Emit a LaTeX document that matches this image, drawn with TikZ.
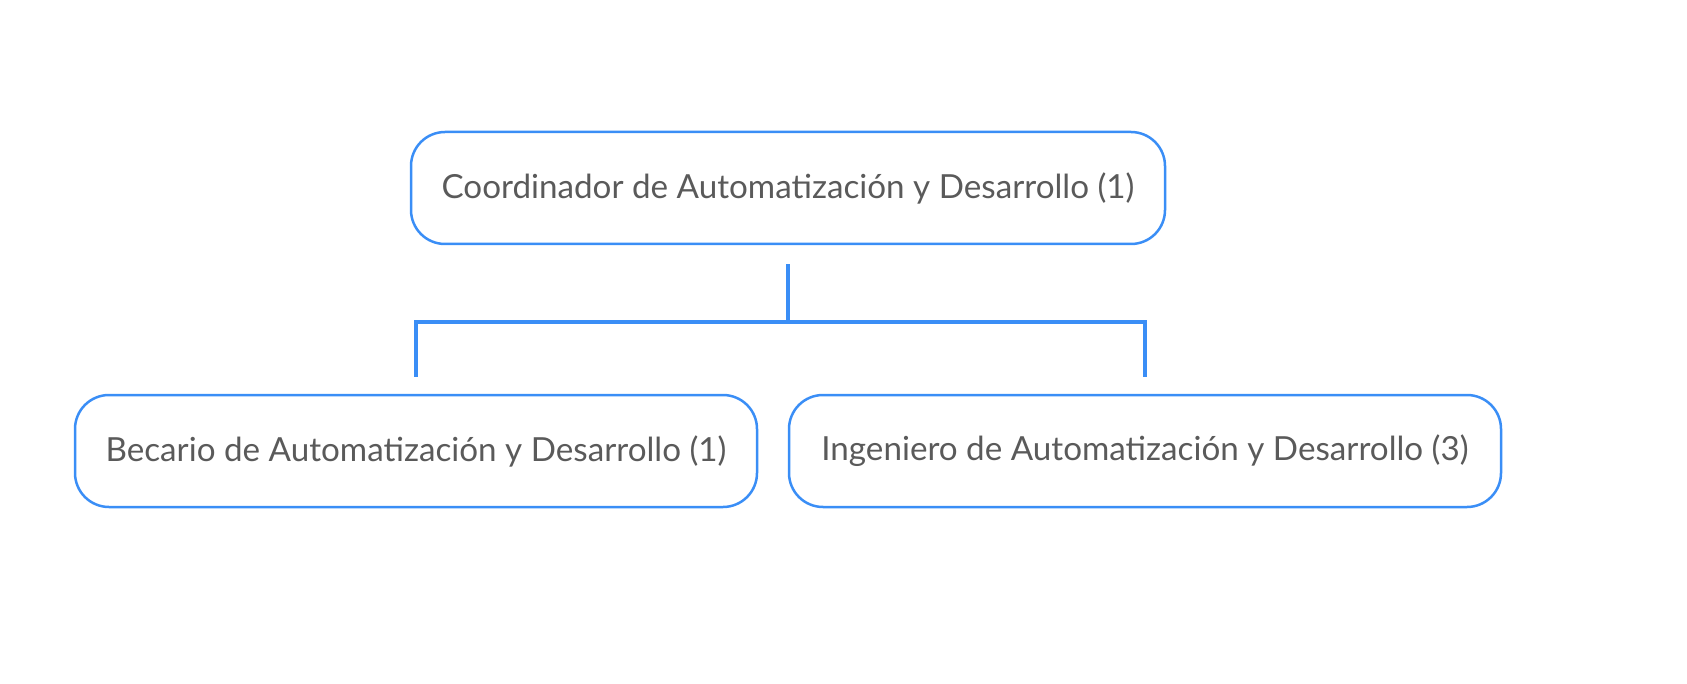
\documentclass[tikz,border=0pt]{standalone}
\usepackage{fontspec}
\setmainfont{Lato}
\definecolor{boxblue}{HTML}{3A8EF6}
\definecolor{textgray}{HTML}{5A5A5A}
\tikzset{
  puesto/.style={draw=boxblue, line width=1.25pt, rounded corners=17pt,
    text=textgray, font=\fontsize{16.6}{20}\selectfont, minimum height=56pt, inner xsep=0pt},
  link/.style={draw=boxblue, line width=1.8pt}
}
\begin{document}
\begin{tikzpicture}[x=0.5pt,y=-0.5pt]
  \useasboundingbox (0,0) rectangle (1687,684);
  \node[puesto, minimum width=377pt] (coord) at (788,188) {Coordinador de Automatización y Desarrollo (1)};
  \node[puesto, minimum width=341pt] (becario) at (416,451) {Becario de Automatización y Desarrollo (1)};
  \node[puesto, minimum width=356pt] (ingeniero) at (1145,451) {Ingeniero de Automatización y Desarrollo (3)};
  \coordinate (bus) at (788,322);
  \draw[link] ([yshift=-9.5pt]coord.south) -- (coord.south |- bus) -| ([yshift=8.5pt]becario.north);
  \draw[link] (coord.south |- bus) -| ([yshift=8.5pt]ingeniero.north);
\end{tikzpicture}
\end{document}
